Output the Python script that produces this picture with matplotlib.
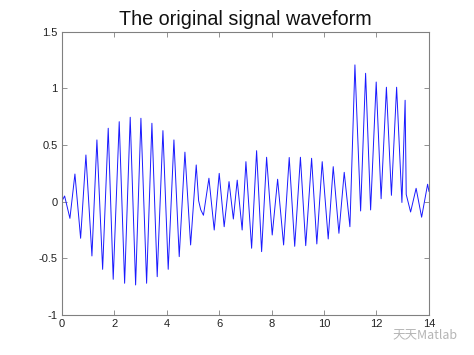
import matplotlib
matplotlib.use("Agg")
import matplotlib.pyplot as plt

# Extrema (and a few shape points)
t_vals = [0.000, 0.114, 0.316, 0.507, 0.724, 0.926, 1.155, 1.345, 1.563, 1.776,
          1.966, 2.195, 2.401, 2.614, 2.820, 3.022, 3.239, 3.441, 3.643, 3.861,
          4.062, 4.280, 4.482, 4.699, 4.916, 5.130, 5.221, 5.300, 5.405, 5.614,
          5.816, 6.006, 6.195, 6.380, 6.545, 6.692, 6.880, 7.024, 7.241, 7.431,
          7.622, 7.812, 8.026, 8.232, 8.460, 8.674, 8.883, 9.101, 9.303, 9.527,
          9.726, 9.931, 10.160, 10.351, 10.568, 10.770, 10.987, 11.178, 11.395, 11.585,
          11.776, 11.989, 12.176, 12.378, 12.569, 12.767, 12.969, 13.091, 13.133, 13.300,
          13.510, 13.720, 13.948, 14.000]
y_vals = [0.000, 0.050, -0.147, 0.244, -0.323, 0.412, -0.479, 0.545, -0.597, 0.648,
          -0.685, 0.706, -0.720, 0.745, -0.735, 0.736, -0.720, 0.692, -0.662, 0.627,
          -0.597, 0.545, -0.485, 0.437, -0.382, 0.324, 0.009, -0.070, -0.120, 0.207,
          -0.250, 0.250, -0.221, 0.177, -0.153, 0.190, -0.250, 0.353, -0.411, 0.450,
          -0.441, 0.392, -0.294, 0.198, -0.382, 0.390, -0.394, 0.392, -0.388, 0.383,
          -0.373, 0.353, -0.329, 0.309, -0.279, 0.259, -0.221, 1.207, -0.082, 1.133,
          -0.073, 1.056, 0.026, 1.010, 0.056, 1.010, -0.007, 0.895, 0.064, -0.091,
          0.118, -0.137, 0.154, 0.090]

x_ticks = [0, 2, 4, 6, 8, 10, 12, 14]
y_ticks = [-1, -0.5, 0, 0.5, 1, 1.5]
y_tick_labels = ["-1", "-0.5", "0", "0.5", "1", "1.5"]

plt.rcParams['font.family'] = ['Liberation Sans', 'DejaVu Sans']

fig = plt.figure(figsize=(4.74, 3.55), dpi=100)
ax = fig.add_axes([0.130, 0.1127, 0.775, 0.798])
ax.plot(t_vals, y_vals, color='#1a1aff', linewidth=0.7,
        solid_joinstyle='round', solid_capstyle='round')

ax.set_xlim(0, 14)
ax.set_ylim(-1, 1.5)
ax.set_xticks(x_ticks)
ax.set_xticklabels([str(v) for v in x_ticks])
ax.set_yticks(y_ticks)
ax.set_yticklabels(y_tick_labels)

axcol = '#808080'
for s in ax.spines.values():
    s.set_color(axcol)
    s.set_linewidth(0.8)
ax.tick_params(direction='in', length=3.5, width=0.6, colors=axcol,
               labelcolor='#222222', labelsize=8, top=True, right=True, pad=3)

ax.set_title("The original signal waveform", fontsize=14.2, color='#111111', pad=5)

fig.text(0.966, 0.058, "天天Matlab", fontsize=9, color='#b5b5b5', ha='right', va='center',
         family=['Noto Sans CJK SC', 'DejaVu Sans'])

fig.savefig("out.png", dpi=100)
